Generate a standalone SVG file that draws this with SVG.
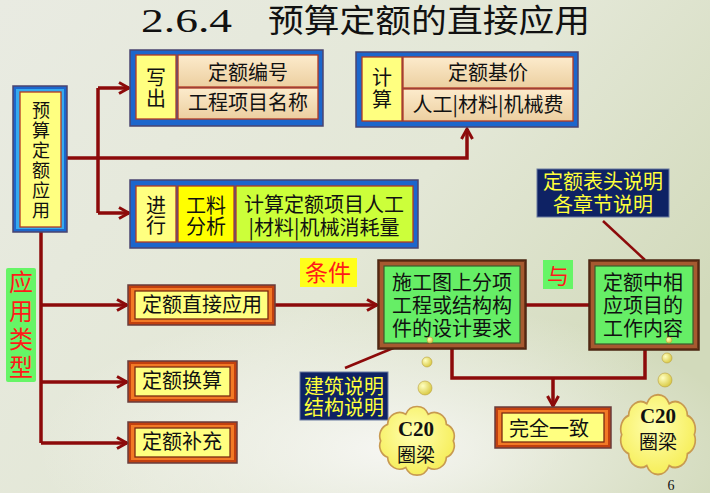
<svg xmlns="http://www.w3.org/2000/svg" width="710" height="493" viewBox="0 0 710 493">
<defs>
<linearGradient id="bg" x1="0" y1="0" x2="1" y2="0.6">
<stop offset="0" stop-color="#e9ebe2"/>
<stop offset="0.6" stop-color="#e3e7d6"/>
<stop offset="1" stop-color="#d2dabb"/>
</linearGradient>
<radialGradient id="paper" cx="0.55" cy="0.85" r="0.5">
<stop offset="0" stop-color="#f7f7f4" stop-opacity="0.95"/>
<stop offset="1" stop-color="#f7f7f4" stop-opacity="0"/>
</radialGradient>
<linearGradient id="tan" x1="0" y1="0" x2="0" y2="1">
<stop offset="0" stop-color="#fcebcc"/>
<stop offset="1" stop-color="#eccfa0"/>
</linearGradient>
<radialGradient id="cloudFill" cx="0.45" cy="0.4" r="0.6">
<stop offset="0" stop-color="#ffffb0"/>
<stop offset="1" stop-color="#f6ee5a"/>
</radialGradient>
<radialGradient id="dot" cx="0.35" cy="0.35" r="0.7">
<stop offset="0" stop-color="#ffffc0"/>
<stop offset="1" stop-color="#d8c840"/>
</radialGradient>
<marker id="arr" viewBox="0 0 14 14" refX="12" refY="7" markerWidth="14" markerHeight="14" markerUnits="userSpaceOnUse" orient="auto">
<path d="M2,1.5 L12,7 L2,12.5" fill="none" stroke="#8c0a0a" stroke-width="3"/>
</marker>
<path id="cloud" d="M73,32 A11,11 0 0 1 66.7,46.7 A11,11 0 0 1 50.2,55.8 A11,11 0 0 1 29.8,55.8 A11,11 0 0 1 13.3,46.7 A11,11 0 0 1 7,32 A11,11 0 0 1 13.3,17.3 A11,11 0 0 1 29.8,8.2 A11,11 0 0 1 50.2,8.2 A11,11 0 0 1 66.7,17.3 A11,11 0 0 1 73,32 Z"/>
</defs>
<style>
text{font-family:"Noto Sans CJK SC","Liberation Sans",sans-serif;fill:#111;}
text.serif{font-family:"Liberation Serif","Noto Sans CJK SC",serif;}
.t20{font-size:20px;text-anchor:middle;}
.line{fill:none;stroke:#8c0a0a;stroke-width:3.5;}
.thin{fill:none;stroke:#8c0a0a;stroke-width:2.5;}
.bOut{fill:#1c66cc;stroke:#4a4470;stroke-width:1.5;}
.bIn{fill:#35aaee;}
.yc{fill:#ffff80;stroke:#b23a22;stroke-width:1.3;}
.tc{fill:url(#tan);stroke:#b23a22;stroke-width:1.3;}
.oOut{fill:#c2400f;stroke:#6a3c3c;stroke-width:1.5;}
.oIn{fill:#f27a26;}
.oY{fill:#ffff80;stroke:#7a2a10;stroke-width:1.3;}
.brOut{fill:#6e3418;stroke:#4a2410;stroke-width:1.5;}
.brIn{fill:#a65a30;}
.gr{fill:#66ee66;stroke:#3a5a2a;stroke-width:1.2;}
.navy{fill:#0e2264;stroke:#6a7aa0;stroke-width:1;}
text.ylw{fill:#ffff3a;}
text.red{fill:#ff1a1a;}
.cloud{fill:url(#cloudFill);stroke:#c89a50;stroke-width:1.5;}
.dot{fill:url(#dot);stroke:#b8a040;stroke-width:0.6;}
</style>
<rect x="0" y="0" width="710" height="493" fill="url(#bg)"/>
<rect x="0" y="200" width="710" height="293" fill="url(#paper)"/>

<g id="title">
<text class="serif" x="141" y="32" font-size="33" textLength="91" lengthAdjust="spacingAndGlyphs">2.6.4</text>
<text x="268" y="32" font-size="32" textLength="322" lengthAdjust="spacingAndGlyphs">预算定额的直接应用</text>
</g>

<g id="connectors">
<path class="line" d="M67,158 H467 V129" marker-end="url(#arr)"/>
<path class="line" d="M98,88 V213"/>
<path class="line" d="M98,88 H129" marker-end="url(#arr)"/>
<path class="line" d="M98,213 H129" marker-end="url(#arr)"/>
<path class="line" d="M41,232 V443"/>
<path class="line" d="M41,305 H127" marker-end="url(#arr)"/>
<path class="line" d="M41,382 H127" marker-end="url(#arr)"/>
<path class="line" d="M41,443 H127" marker-end="url(#arr)"/>
<path class="line" d="M275,305 H377" marker-end="url(#arr)"/>
<path class="line" d="M526,305 H589"/>
<path class="line" d="M452,349 V378 H645 V350"/>
<path class="line" d="M553,378 V406" marker-end="url(#arr)"/>
<path class="thin" d="M603,221 L645,260"/>
<path class="thin" d="M345,368 L403,344"/>
</g>

<g id="node-root">
<rect class="bOut" x="13" y="86" width="54" height="146"/>
<rect class="bIn" x="16" y="89" width="48" height="140"/>
<rect class="yc" x="20" y="92" width="41" height="135"/>
<text x="41" font-size="18" text-anchor="middle"><tspan x="41" y="117">预</tspan><tspan x="41" y="137">算</tspan><tspan x="41" y="157">定</tspan><tspan x="41" y="177">额</tspan><tspan x="41" y="197">应</tspan><tspan x="41" y="217">用</tspan></text>
</g>

<g id="node-write">
<rect class="bOut" x="130" y="50" width="193" height="76"/>
<rect class="yc" x="136" y="55" width="40" height="64"/>
<rect class="tc" x="178" y="55" width="140" height="32"/>
<rect class="tc" x="178" y="88" width="140" height="31"/>
<text class="t20" x="156" y="85">写</text>
<text class="t20" x="156" y="106">出</text>
<text class="t20" x="248" y="80">定额编号</text>
<text class="t20" x="248" y="110">工程项目名称</text>
</g>

<g id="node-calc">
<rect class="bOut" x="356" y="52" width="222" height="75"/>
<rect class="yc" x="362" y="57" width="40" height="64"/>
<rect class="tc" x="403" y="57" width="170" height="31"/>
<rect class="tc" x="403" y="89" width="170" height="32"/>
<text class="t20" x="382" y="85">计</text>
<text class="t20" x="382" y="107">算</text>
<text class="t20" x="488" y="80">定额基价</text>
<text class="t20" x="488" y="112">人工|材料|机械费</text>
</g>

<g id="node-analysis">
<rect class="bOut" x="130" y="180" width="288" height="68"/>
<rect class="yc" x="136" y="186" width="40" height="56"/>
<rect x="178" y="186" width="56" height="56" fill="#ffff00" stroke="#b23a22" stroke-width="1.3"/>
<rect x="236" y="186" width="177" height="56" fill="#ccff3a" stroke="#b23a22" stroke-width="1.3"/>
<text class="t20" x="156" y="213">进</text>
<text class="t20" x="156" y="233">行</text>
<text class="t20" x="206" y="213">工料</text>
<text class="t20" x="206" y="234">分析</text>
<text class="t20" x="324" y="212">计算定额项目人工</text>
<text class="t20" x="324" y="235">|材料|机械消耗量</text>
</g>

<g id="label-types">
<rect x="6" y="268" width="30" height="114" fill="#66f566" rx="2"/>
<text x="21" font-size="24" text-anchor="middle" class="red"><tspan x="21" y="291">应</tspan><tspan x="21" y="320">用</tspan><tspan x="21" y="348">类</tspan><tspan x="21" y="376">型</tspan></text>
</g>

<g id="node-direct">
<rect class="oOut" x="128" y="285" width="147" height="40"/>
<rect class="oIn" x="131" y="288" width="141" height="34"/>
<rect class="oY" x="135" y="291" width="133" height="28"/>
<text class="t20" x="202" y="312">定额直接应用</text>
</g>

<g id="node-convert">
<rect class="oOut" x="128" y="361" width="109" height="41"/>
<rect class="oIn" x="131" y="364" width="103" height="35"/>
<rect class="oY" x="135" y="367" width="95" height="29"/>
<text class="t20" x="182" y="388">定额换算</text>
</g>

<g id="node-supplement">
<rect class="oOut" x="128" y="422" width="109" height="41"/>
<rect class="oIn" x="131" y="425" width="103" height="35"/>
<rect class="oY" x="135" y="428" width="95" height="29"/>
<text class="t20" x="182" y="449">定额补充</text>
</g>

<g id="label-condition">
<rect x="300" y="258" width="57" height="29" fill="#ffff1a"/>
<text x="328" y="281" font-size="23" text-anchor="middle" class="red">条件</text>
</g>

<g id="label-and">
<rect x="543" y="260" width="30" height="29" fill="#66f566"/>
<text x="558" y="284" font-size="22" text-anchor="middle" class="red">与</text>
</g>

<g id="node-design">
<rect class="brOut" x="378" y="260" width="148" height="89"/>
<rect class="brIn" x="380" y="262" width="144" height="85"/>
<rect class="gr" x="384" y="266" width="136" height="77"/>
<text class="t20" x="452" y="290">施工图上分项</text>
<text class="t20" x="452" y="313">工程或结构构</text>
<text class="t20" x="452" y="336">件的设计要求</text>
</g>

<g id="node-content">
<rect class="brOut" x="589" y="260" width="110" height="90"/>
<rect class="brIn" x="591" y="262" width="106" height="86"/>
<rect class="gr" x="595" y="266" width="98" height="78"/>
<text class="t20" x="643" y="290">定额中相</text>
<text class="t20" x="643" y="313">应项目的</text>
<text class="t20" x="643" y="336">工作内容</text>
</g>

<g id="node-match">
<rect class="oOut" x="495" y="407" width="116" height="41"/>
<rect class="oIn" x="498" y="410" width="110" height="35"/>
<rect class="oY" x="502" y="413" width="102" height="29"/>
<text class="t20" x="549" y="436">完全一致</text>
</g>

<g id="note-header">
<rect class="navy" x="537" y="169" width="132" height="48"/>
<text class="t20 ylw" x="603" y="189">定额表头说明</text>
<text class="t20 ylw" x="603" y="212">各章节说明</text>
</g>

<g id="note-building">
<rect class="navy" x="300" y="372" width="88" height="48"/>
<text class="t20 ylw" x="344" y="394">建筑说明</text>
<text class="t20 ylw" x="344" y="415">结构说明</text>
</g>

<g id="cloud-left">
<circle class="dot" cx="430" cy="340" r="3"/>
<circle class="dot" cx="427" cy="362" r="5"/>
<circle class="dot" cx="425" cy="388" r="7"/>
<use href="#cloud" class="cloud" transform="translate(373,405) scale(1.1,1.12)"/>
<text class="serif" x="416" y="436" font-weight="bold" font-size="21" text-anchor="middle">C20</text>
<text x="416" y="462" font-size="19" text-anchor="middle">圈梁</text>
</g>

<g id="cloud-right">
<circle class="dot" cx="669" cy="340" r="3"/>
<circle class="dot" cx="667" cy="358" r="5"/>
<circle class="dot" cx="665" cy="380" r="7"/>
<use href="#cloud" class="cloud" transform="translate(614,393) scale(1.1,1.3)"/>
<text class="serif" x="658" y="423" font-weight="bold" font-size="21" text-anchor="middle">C20</text>
<text x="658" y="449" font-size="19" text-anchor="middle">圈梁</text>
</g>

<text class="serif" x="671" y="490" font-size="14" text-anchor="middle">6</text>
</svg>
